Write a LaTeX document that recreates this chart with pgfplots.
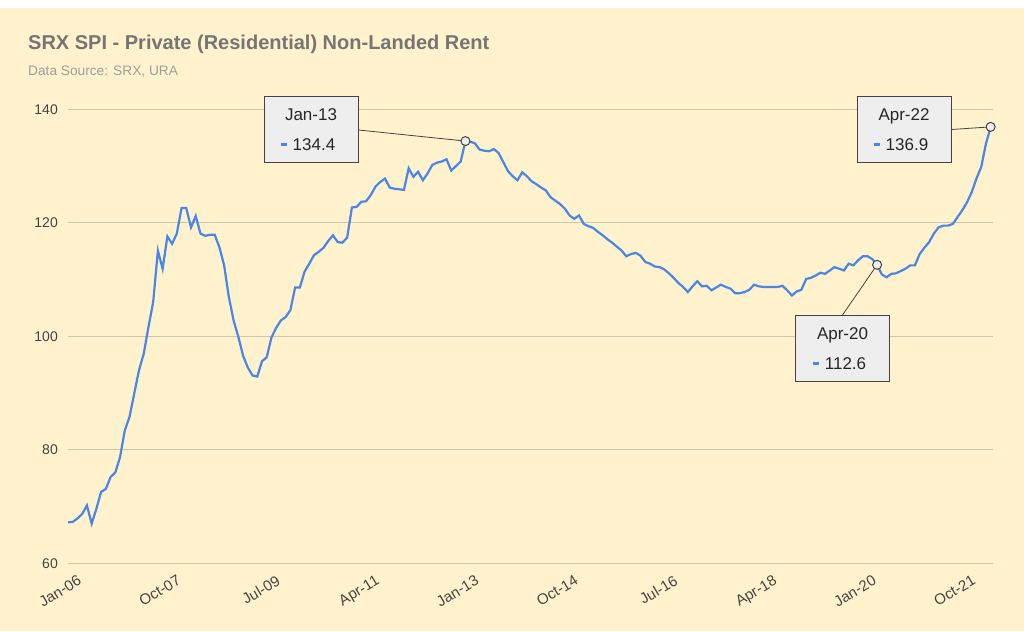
\documentclass[border=0pt]{standalone}
\usepackage{pgfplots}
\usepackage{pgfplotstable}
\pgfplotsset{compat=1.18}
\usepackage{fontspec}
\setmainfont{Liberation Sans}
\definecolor{bg}{HTML}{FFF2CC}
\definecolor{gridc}{HTML}{CFC6AC}
\definecolor{linec}{HTML}{4A86E8}
\definecolor{titlec}{HTML}{757575}
\definecolor{subc}{HTML}{9E9E9E}
\definecolor{tickc}{HTML}{444444}
\definecolor{boxfill}{HTML}{EEEEEE}
\definecolor{boxdraw}{HTML}{444444}

\pgfplotstableread{
m v
0 67.2
1 67.3
2 67.9
3 68.7
4 70.2
5 67.0
6 69.6
7 72.6
8 73.1
9 75.2
10 76.0
11 78.7
12 83.4
13 85.8
14 89.9
15 94.0
16 96.9
17 101.6
18 106.0
19 115.1
20 111.9
21 117.6
22 116.3
23 118.1
24 122.6
25 122.6
26 119.2
27 121.2
28 118.1
29 117.7
30 117.9
31 117.9
32 115.7
33 112.5
34 106.9
35 102.8
36 99.9
37 96.6
38 94.5
39 93.1
40 92.9
41 95.6
42 96.3
43 99.8
44 101.5
45 102.8
46 103.4
47 104.6
48 108.6
49 108.6
50 111.4
51 112.8
52 114.3
53 114.9
54 115.6
55 116.8
56 117.8
57 116.6
58 116.5
59 117.4
60 122.7
61 122.8
62 123.7
63 123.8
64 124.9
65 126.4
66 127.2
67 127.8
68 126.2
69 126.0
70 125.9
71 125.8
72 129.6
73 128.1
74 129.0
75 127.5
76 128.7
77 130.2
78 130.6
79 130.8
80 131.2
81 129.2
82 130.0
83 130.8
84 134.4
85 134.3
86 134.0
87 132.9
88 132.7
89 132.6
90 133.0
91 132.3
92 130.7
93 129.1
94 128.2
95 127.5
96 128.9
97 128.2
98 127.3
99 126.8
100 126.2
101 125.7
102 124.5
103 123.9
104 123.3
105 122.5
106 121.3
107 120.7
108 121.3
109 119.8
110 119.4
111 119.1
112 118.4
113 117.8
114 117.1
115 116.5
116 115.8
117 115.1
118 114.1
119 114.5
120 114.7
121 114.2
122 113.1
123 112.8
124 112.3
125 112.2
126 111.8
127 111.1
128 110.3
129 109.4
130 108.7
131 107.8
132 108.8
133 109.7
134 108.8
135 108.9
136 108.1
137 108.6
138 109.1
139 108.7
140 108.4
141 107.6
142 107.6
143 107.8
144 108.2
145 109.1
146 108.8
147 108.7
148 108.7
149 108.7
150 108.7
151 108.9
152 108.1
153 107.2
154 107.9
155 108.2
156 110.1
157 110.3
158 110.7
159 111.2
160 111.0
161 111.6
162 112.2
163 111.9
164 111.6
165 112.8
166 112.5
167 113.4
168 114.1
169 114.1
170 113.6
171 112.6
172 110.9
173 110.4
174 111.0
175 111.1
176 111.5
177 111.9
178 112.5
179 112.5
180 114.5
181 115.6
182 116.6
183 118.1
184 119.2
185 119.5
186 119.5
187 119.8
188 121.0
189 122.2
190 123.6
191 125.4
192 127.8
193 129.8
194 133.9
195 136.9
}\rent

\begin{document}
\begin{tikzpicture}[x=1pt,y=1pt]
\fill[bg] (0,0) rectangle (1024,631);
\fill[white] (0,623) rectangle (1024,631);
\useasboundingbox (0,0) rectangle (1024,631);
\node[anchor=base west, text=titlec, font=\fontsize{20}{24}\selectfont\bfseries, inner sep=0] at (28,581) {SRX SPI - Private (Residential) Non-Landed Rent};
\node[anchor=base west, text=subc, font=\fontsize{13.7}{16}\selectfont, inner sep=0] at (28,555) {Data Source: SRX, URA};
\begin{axis}[at={(68pt,67.7pt)}, anchor=south west, scale only axis,
  width=925pt, height=454pt,
  xmin=0, xmax=195.5, ymin=60, ymax=140,
  axis line style={draw=none},
  ytick={60,80,100,120,140},
  ymajorgrids, grid style={gridc, line width=1pt},
  xtick={0,21,42,63,84,105,126,147,168,189},
  xticklabels={Jan-06,Oct-07,Jul-09,Apr-11,Jan-13,Oct-14,Jul-16,Apr-18,Jan-20,Oct-21},
  major tick length=0pt,
  tick label style={text=tickc, font=\fontsize{14}{16}\selectfont},
  yticklabel style={anchor=east, inner sep=0pt, xshift=-10pt},
  xticklabel style={anchor=north east, inner sep=0pt, xshift=9pt, yshift=-11pt, rotate=31, font=\fontsize{15}{17}\selectfont},
  /pgf/number format/assume math mode=true,
  clip=false,
]
\addplot[linec, line width=2.2pt, mark=none] table[x=m, y=v] {\rent};
\coordinate (p1) at (axis cs:84,134.4);
\coordinate (p2) at (axis cs:195,136.9);
\coordinate (p3) at (axis cs:171,112.6);
\end{axis}
% tooltip boxes
\tikzset{tip/.style={draw=boxdraw, fill=boxfill, line width=1pt, minimum width=94pt, minimum height=66pt, inner sep=0pt}}
\tikzset{tiptxt/.style={font=\fontsize{17}{20}\selectfont, text=black!85, inner sep=0pt, anchor=base}}
\newcommand{\dash}{\textcolor{linec}{\rule[0.28em]{6pt}{3pt}}\hspace{6pt}}
\node[tip] (b1) at (311,501) {};
\node[tiptxt] at (311,510) {Jan-13};
\node[tiptxt] at (308,480) {\dash 134.4};
\node[tip] (b2) at (904,501.5) {};
\node[tiptxt] at (904,510.5) {Apr-22};
\node[tiptxt] at (901,480.5) {\dash 136.9};
\node[tip] (b3) at (842.5,282.5) {};
\node[tiptxt] at (842.5,291.5) {Apr-20};
\node[tiptxt] at (839.5,261.5) {\dash 112.6};
\draw[boxdraw, line width=0.8pt, shorten >=4.5pt] (b1.east) -- (p1);
\draw[boxdraw, line width=0.8pt, shorten >=4.5pt] (b2.east) -- (p2);
\draw[boxdraw, line width=0.8pt, shorten >=4.5pt] (b3.north) -- (p3);
\begin{axis}[at={(68pt,67.7pt)}, anchor=south west, scale only axis,
  width=925pt, height=454pt,
  xmin=0, xmax=195.5, ymin=60, ymax=140, hide axis, clip=false]
\addplot[only marks, mark=*, mark size=4.5pt, mark options={fill=boxfill, draw=boxdraw, line width=1pt}] coordinates {(84,134.4) (171,112.6) (195,136.9)};
\end{axis}
\end{tikzpicture}
\end{document}
